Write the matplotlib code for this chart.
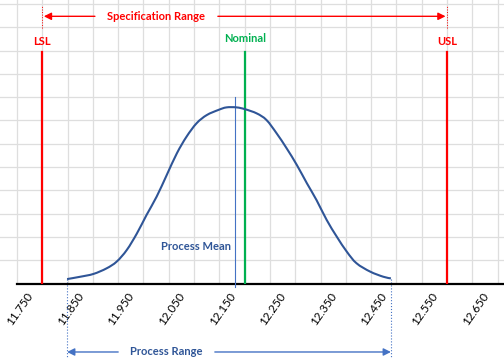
import matplotlib
matplotlib.use('Agg')
import matplotlib.pyplot as plt
import matplotlib.transforms as mtransforms
from matplotlib.path import Path
from matplotlib.patches import PathPatch
import numpy as np

plt.rcParams['font.family'] = ['Lato', 'DejaVu Sans']

# values
lsl = 11.80
usl = 12.60
nominal = 12.20
process_mean = 12.18
tick_values = [11.75, 11.85, 11.95, 12.05, 12.15, 12.25, 12.35, 12.45, 12.55, 12.65]

curve_x = [11.849, 11.875, 11.901, 11.927, 11.947, 11.967, 11.987, 12.006, 12.026, 12.046,
           12.066, 12.085, 12.105, 12.125, 12.148, 12.164, 12.184, 12.201, 12.224, 12.243,
           12.263, 12.283, 12.303, 12.323, 12.342, 12.362, 12.382, 12.402, 12.421, 12.448,
           12.474, 12.489]
curve_y = [0.19, 0.29, 0.41, 0.65, 0.94, 1.44, 2.15, 2.94, 3.73, 4.66,
           5.59, 6.30, 6.88, 7.23, 7.45, 7.56, 7.56, 7.48, 7.30, 7.02,
           6.45, 5.80, 5.09, 4.30, 3.58, 2.73, 2.01, 1.36, 0.87, 0.51,
           0.29, 0.22]

red = '#ff0000'
green = '#00b050'
dark_blue = '#2f5597'
blue = '#4472c4'


def smooth_path(xs, ys):
    # Excel style smoothed line: bezier segments through the points
    p = np.column_stack([xs, ys])
    p_ext = np.vstack([p[0], p, p[-1]])
    verts = [p[0]]
    codes = [Path.MOVETO]
    for i in range(len(p) - 1):
        a, b, c, d = p_ext[i], p_ext[i + 1], p_ext[i + 2], p_ext[i + 3]
        verts += [b + (c - a) / 6, c - (d - b) / 6, c]
        codes += [Path.CURVE4] * 3
    return Path(verts, codes)


fig = plt.figure(figsize=(5.04, 3.63), dpi=100)
ax = fig.add_axes([0, 0.219, 1, 0.781])
ax.set_xlim(11.7164, 12.7125)
ax.set_ylim(0, 12.17)

# spreadsheet-like grid
ax.set_xticks(tick_values)
ax.set_xticklabels(['{:.3f}'.format(v) for v in tick_values], rotation=55,
                   ha='center', va='top', fontsize=8.5)
ax.set_xticks(np.arange(11.75, 12.71, 0.05), minor=True)
ax.set_yticks(np.arange(1, 13))
ax.set_yticklabels([])
ax.tick_params(axis='both', which='both', length=0)
ax.tick_params(axis='x', pad=5)
ax.grid(True, which='both', color='#dedede', lw=0.9)
ax.set_axisbelow(True)
offset = mtransforms.ScaledTranslation(3 / 100, 0, fig.dpi_scale_trans)
for lab in ax.get_xticklabels():
    lab.set_transform(lab.get_transform() + offset)

for s in ['left', 'right', 'top']:
    ax.spines[s].set_visible(False)
ax.spines['bottom'].set_bounds(11.75, 12.7125)
ax.spines['bottom'].set_linewidth(1.6)
ax.spines['bottom'].set_color('black')

# curve and reference lines
ax.add_patch(PathPatch(smooth_path(curve_x, curve_y), facecolor='none',
                       edgecolor=dark_blue, lw=1.5, zorder=4))
ax.plot([process_mean, process_mean], [-0.15, 8.0], color=blue, lw=0.8, zorder=3, clip_on=False)
ax.plot([nominal, nominal], [0, 9.95], color=green, lw=1.6, zorder=3)
for v, name in [(lsl, 'LSL'), (usl, 'USL')]:
    ax.plot([v, v], [0, 9.95], color=red, lw=1.6, zorder=3)
    ax.plot([v, v], [10.95, 11.95], color=red, lw=0.7, ls=':', zorder=3)
    ax.text(v, 10.4, name, color=red, fontsize=8, fontweight='bold', ha='center', va='center')
ax.text(nominal, 10.5, 'Nominal', color=green, fontsize=8, fontweight='bold', ha='center', va='center')
ax.text(process_mean - 0.007, 1.6, 'Process Mean', color=dark_blue, fontsize=8,
        fontweight='bold', ha='right', va='center')

# specification range arrow
arrow_red = dict(arrowstyle='-|>', color=red, lw=1, mutation_scale=11, shrinkA=0, shrinkB=0)
ax.annotate('', xy=(lsl + 0.003, 11.47), xytext=(11.904, 11.47), arrowprops=arrow_red)
ax.annotate('', xy=(usl - 0.003, 11.47), xytext=(12.147, 11.47), arrowprops=arrow_red)
ax.text(12.025, 11.47, 'Specification Range', color=red, fontsize=8, fontweight='bold',
        ha='center', va='center')

# process range arrow below the axis
x0, x1 = curve_x[0], curve_x[-1]
for v in (x0, x1):
    ax.plot([v, v], [0.2, -3.15], color=blue, lw=0.8, ls=':', clip_on=False)
arrow_blue = dict(arrowstyle='-|>', color=blue, lw=1, mutation_scale=11, shrinkA=0, shrinkB=0)
ax.annotate('', xy=(x0, -2.94), xytext=(11.95, -2.94), arrowprops=arrow_blue, annotation_clip=False)
ax.annotate('', xy=(x1, -2.94), xytext=(12.141, -2.94), arrowprops=arrow_blue, annotation_clip=False)
ax.text(12.044, -2.94, 'Process Range', color=dark_blue, fontsize=8, fontweight='bold',
        ha='center', va='center', clip_on=False)

fig.savefig('out.png', dpi=100)
